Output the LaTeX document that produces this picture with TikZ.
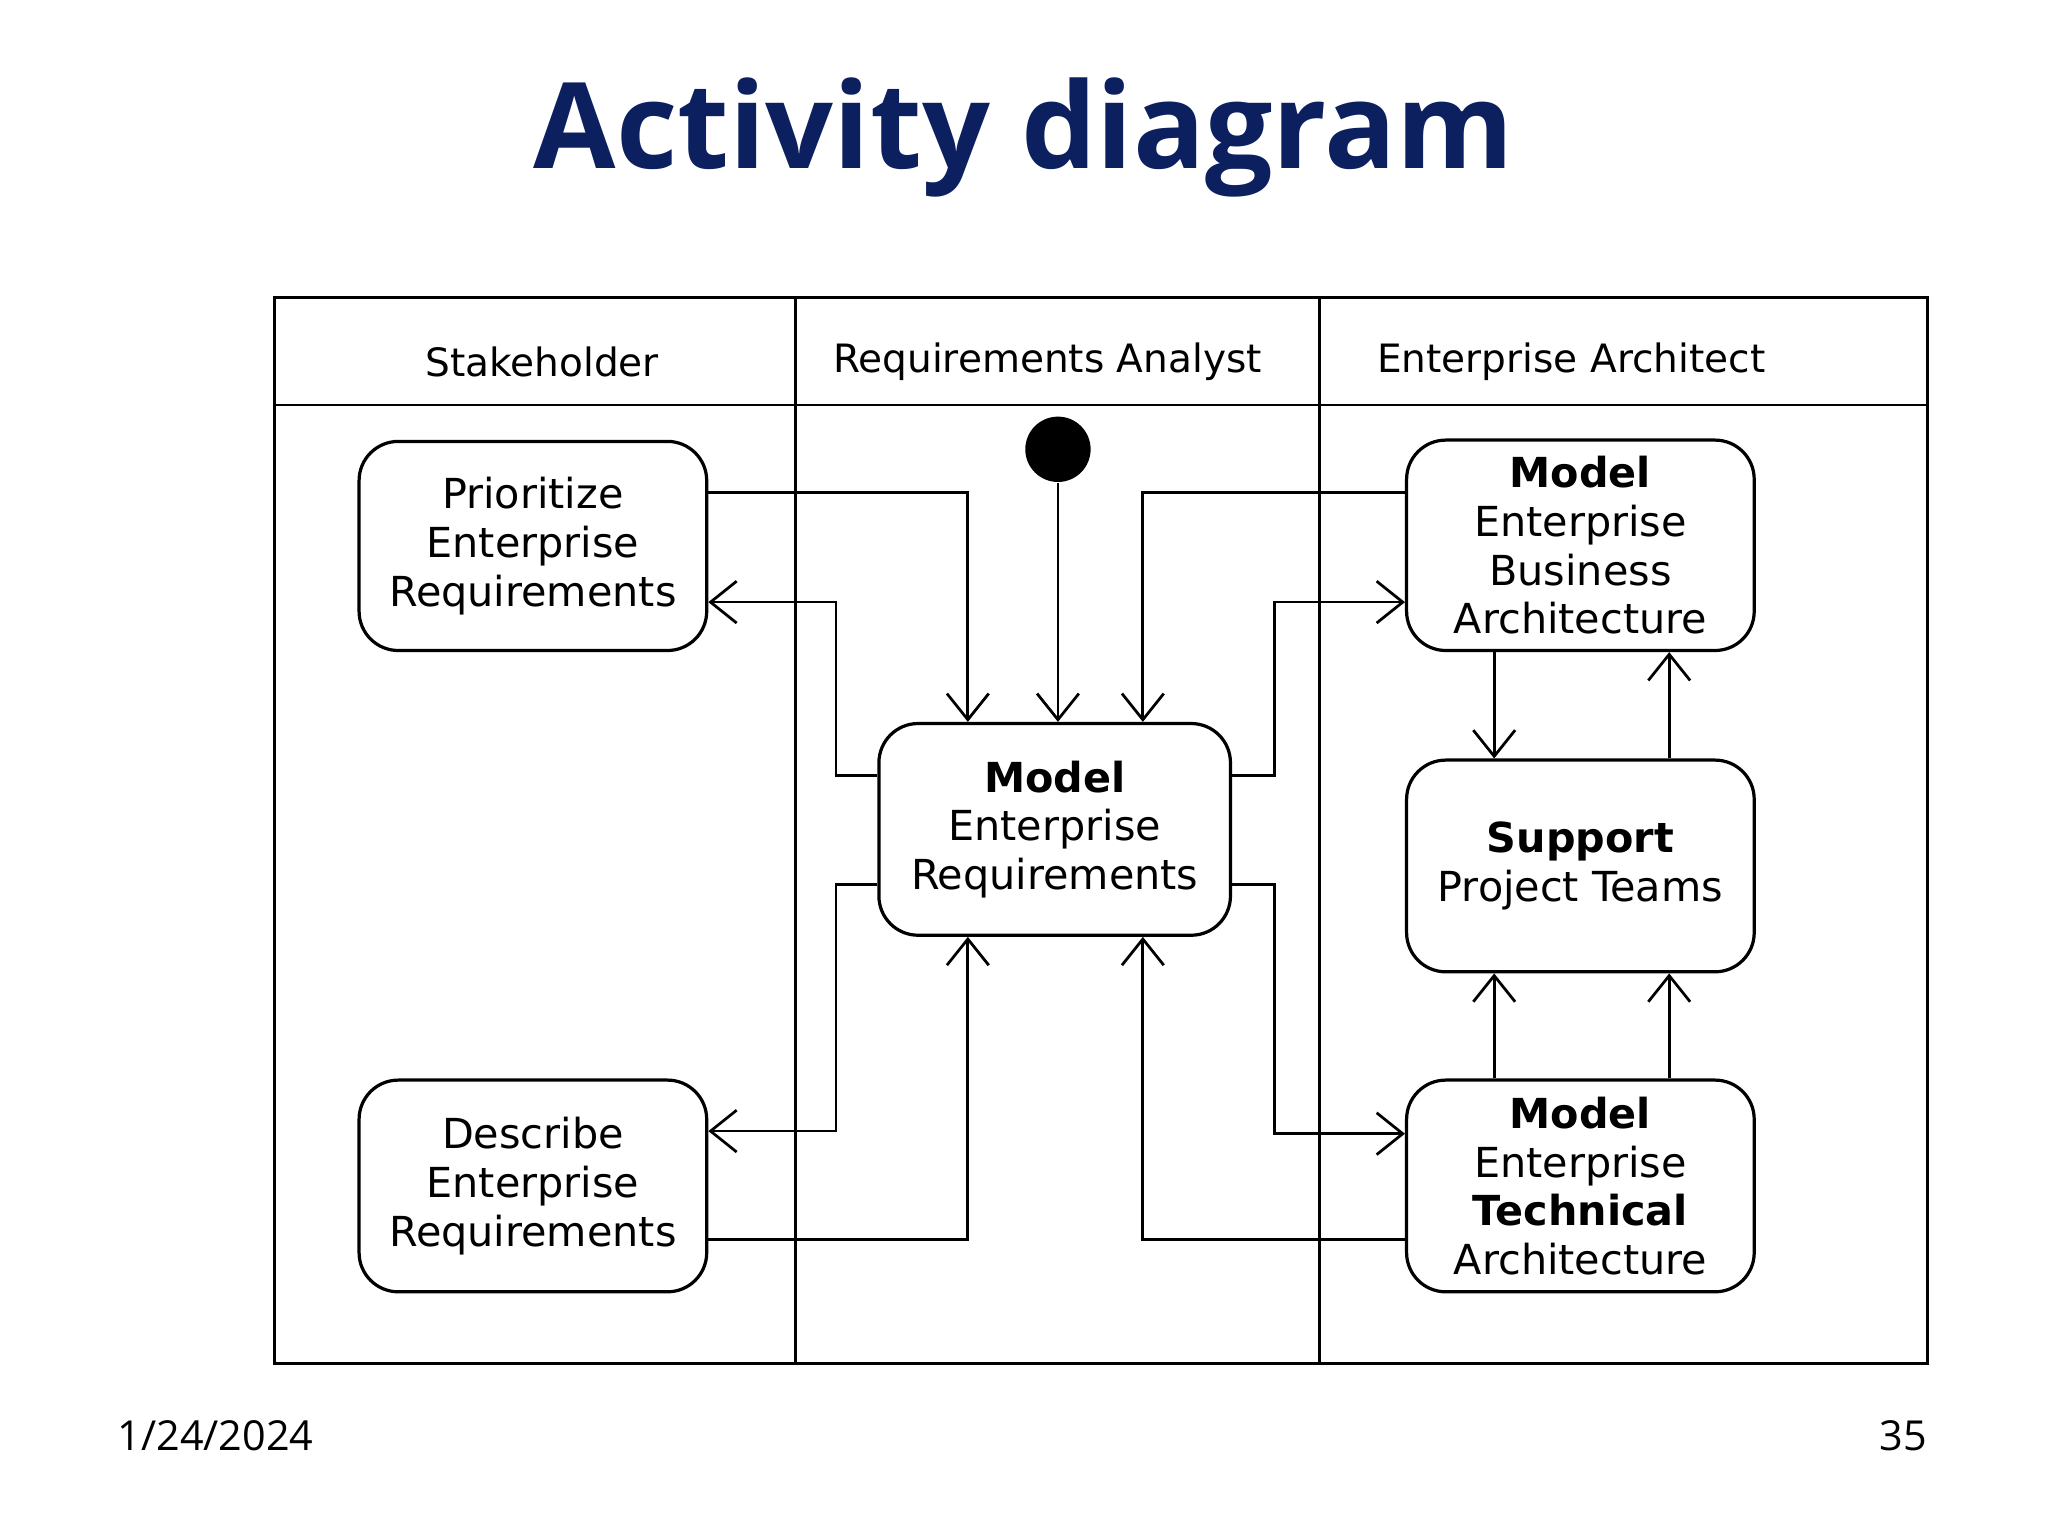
\documentclass[tikz,border=0pt]{standalone}
\usepackage{fontspec}
\setmainfont{DejaVu Sans}
\newfontfamily\noto{Open Sans}
\usetikzlibrary{arrows.meta}
\definecolor{navy}{RGB}{12,32,96}
\begin{document}
\begin{tikzpicture}[x=0.01cm,y=-0.01cm,
  act/.style={draw,rounded corners=0.3cm,line width=0.7pt,align=center,font={\fontsize{9}{10.6}\selectfont}},
  lane/.style={font={\fontsize{8.5}{10}\selectfont}},
  con/.style={line width=0.6pt,-{Straight Barb[length=0.2cm,width=0.32cm]}},
  ln/.style={line width=0.6pt}]
\useasboundingbox (0,0) rectangle (1568,1176);
\node[font={\noto\bfseries\fontsize{26}{30}\selectfont},text=navy] (title) at (784,105) {Activity diagram};
\draw[ln] (210,228) rectangle (1476,1044);
\draw[ln] (210,310) -- (1476,310);
\draw[ln] (609,228) -- (609,1044);
\draw[ln] (1010,228) -- (1010,1044);
\node[lane] (h1) at (415,277) {Stakeholder};
\node[lane] (h2) at (802,277) {Requirements Analyst};
\node[lane] (h3) at (1203,277) {Enterprise Architect};
\node[act,minimum width=2.66cm,minimum height=1.6cm] (P) at (408,418) {Prioritize\\Enterprise\\Requirements};
\node[act,minimum width=2.69cm,minimum height=1.62cm] (M) at (807.5,635) {\textbf{Model}\\Enterprise\\Requirements};
\node[act,minimum width=2.66cm,minimum height=1.62cm] (D) at (408,908) {Describe\\Enterprise\\Requirements};
\node[act,minimum width=2.66cm,minimum height=1.61cm] (B) at (1210,417.5) {\textbf{Model}\\Enterprise\\Business\\Architecture};
\node[act,minimum width=2.66cm,minimum height=1.62cm] (S) at (1210,663) {\textbf{Support}\\Project Teams};
\node[act,minimum width=2.66cm,minimum height=1.62cm] (T) at (1210,908) {\textbf{Model}\\Enterprise\\\textbf{Technical}\\Architecture};
\node[circle,fill=black,minimum size=0.5cm,inner sep=0] (I) at (810,344) {};
\draw[con] (P.east |- 0,377) -| (M.north -| 741,0);
\draw[con] (M.west |- 0,594) -| (640,461) -- (P.east |- 0,461);
\draw[con] (I) -- (M.north -| 810,0);
\draw[con] (B.west |- 0,377) -| (M.north -| 875,0);
\draw[con] (M.east |- 0,594) -| (976,461) -- (B.west |- 0,461);
\draw[con] (M.west |- 0,677) -| (640,866) -- (D.east |- 0,866);
\draw[con] (D.east |- 0,949) -| (M.south -| 741,0);
\draw[con] (M.east |- 0,677) -| (976,868) -- (T.west |- 0,868);
\draw[con] (T.west |- 0,949) -| (M.south -| 875,0);
\draw[con] (B.south -| 1144,0) -- (S.north -| 1144,0);
\draw[con] (S.north -| 1278,0) -- (B.south -| 1278,0);
\draw[con] (T.north -| 1144,0) -- (S.south -| 1144,0);
\draw[con] (T.north -| 1278,0) -- (S.south -| 1278,0);
\node[font={\noto\fontsize{9}{11}\selectfont}] (date) at (165,1099) {1/24/2024};
\node[font={\noto\fontsize{9}{11}\selectfont}] (pg) at (1457,1099) {35};
\end{tikzpicture}
\end{document}
